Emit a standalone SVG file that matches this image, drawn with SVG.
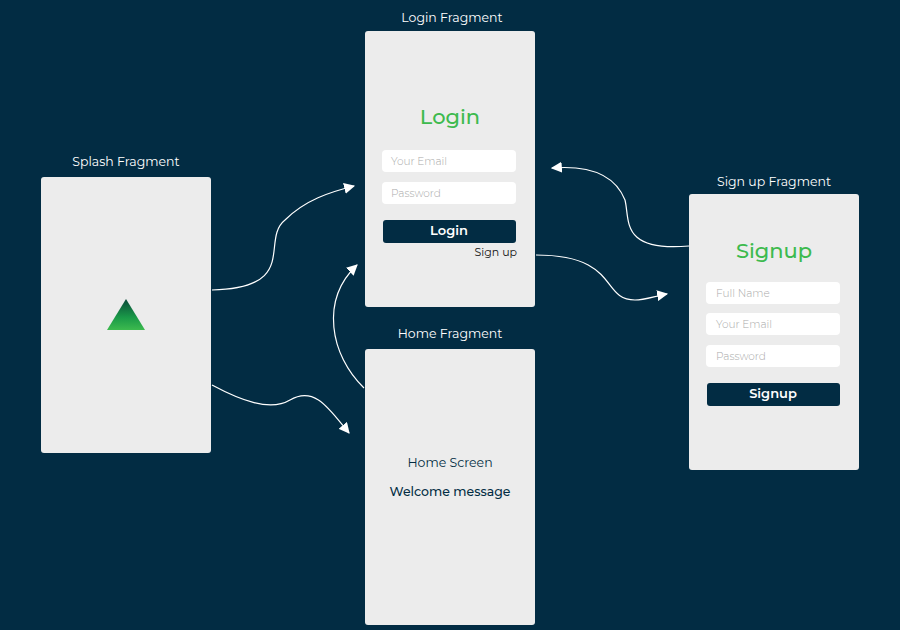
<svg xmlns="http://www.w3.org/2000/svg" width="900" height="630" viewBox="0 0 900 630">
<style>
.card{fill:#ececec}
.title{font-family:Montserrat,"Noto Sans","Liberation Sans",sans-serif;font-size:12.5px;fill:#fff;text-anchor:middle}
.big{font-family:Montserrat,"Noto Sans","Liberation Sans",sans-serif;font-size:21px;fill:#3dba4e;text-anchor:middle;font-weight:500}
.field{fill:#fff}
.ph{font-family:Montserrat,"Noto Sans","Liberation Sans",sans-serif;font-size:10.5px;fill:#aaa;font-weight:300}
.btn{fill:#022c43}
.btxt{font-family:Montserrat,"Noto Sans","Liberation Sans",sans-serif;font-size:13px;fill:#fff;text-anchor:middle;font-weight:600}
.dark{font-family:Montserrat,"Noto Sans","Liberation Sans",sans-serif;font-size:12.5px;fill:#022c43;text-anchor:middle}
.conn{fill:none;stroke:#fff;stroke-width:1.2}
</style>
<defs>
<marker id="ah" viewBox="0 0 10 10" refX="9" refY="5" markerWidth="11" markerHeight="11" markerUnits="userSpaceOnUse" orient="auto"><path d="M0,0L10,5L0,10z" fill="#fff"/></marker>
<linearGradient id="tg" x1="0" y1="0" x2="0" y2="1"><stop offset="0" stop-color="#0a4a3a"/><stop offset="0.6" stop-color="#1a9a48"/><stop offset="1" stop-color="#3dba4e"/></linearGradient>
</defs>
<rect width="900" height="630" fill="#022c43"/>
<g id="splash">
<text class="title" x="126" y="166">Splash Fragment</text>
<rect class="card" x="41" y="177" width="170" height="276" rx="3"/>
<polygon points="126,299 145,330 107,330" fill="url(#tg)"/>
</g>
<g id="login">
<text class="title" x="452" y="22">Login Fragment</text>
<rect class="card" x="365" y="31" width="170" height="276" rx="3"/>
<text class="big" x="450" y="124">Login</text>
<rect class="field" x="382" y="150" width="134" height="22" rx="4"/>
<text class="ph" x="391" y="165">Your Email</text>
<rect class="field" x="382" y="182" width="134" height="22" rx="4"/>
<text class="ph" x="391" y="197">Password</text>
<rect class="btn" x="383" y="220" width="133" height="23" rx="3"/>
<text class="btxt" x="449" y="235">Login</text>
<text class="dark" x="517" y="256" style="font-size:11px;text-anchor:end;fill:#111">Sign up</text>
</g>
<g id="home">
<text class="title" x="450" y="338">Home Fragment</text>
<rect class="card" x="365" y="349" width="170" height="276" rx="3"/>
<text class="dark" x="450" y="467">Home Screen</text>
<text class="dark" x="450" y="496" font-weight="500">Welcome message</text>
</g>
<g id="signup">
<text class="title" x="774" y="186">Sign up Fragment</text>
<rect class="card" x="689" y="194" width="170" height="276" rx="3"/>
<text class="big" x="774" y="258">Signup</text>
<rect class="field" x="706" y="282" width="134" height="22" rx="4"/>
<text class="ph" x="716" y="297">Full Name</text>
<rect class="field" x="706" y="313" width="134" height="22" rx="4"/>
<text class="ph" x="716" y="328">Your Email</text>
<rect class="field" x="706" y="345" width="134" height="22" rx="4"/>
<text class="ph" x="716" y="360">Password</text>
<rect class="btn" x="707" y="383" width="133" height="23" rx="3"/>
<text class="btxt" x="773" y="398">Signup</text>
</g>
<g id="connectors">
<path class="conn" marker-end="url(#ah)" d="M212,290 C300,288 260,240 285,220 C305,200 330,192 354,186"/>
<path class="conn" marker-end="url(#ah)" d="M212,385 C240,400 270,412 290,400 C315,385 330,410 349,433"/>
<path class="conn" marker-end="url(#ah)" d="M364,388 C330,355 320,300 357,265"/>
<path class="conn" marker-end="url(#ah)" d="M689,246 C620,252 630,220 625,200 C615,175 590,165 552,168"/>
<path class="conn" marker-end="url(#ah)" d="M536,255 C620,255 600,300 635,300 C645,300 655,296 667,294"/>
</g>
</svg>
